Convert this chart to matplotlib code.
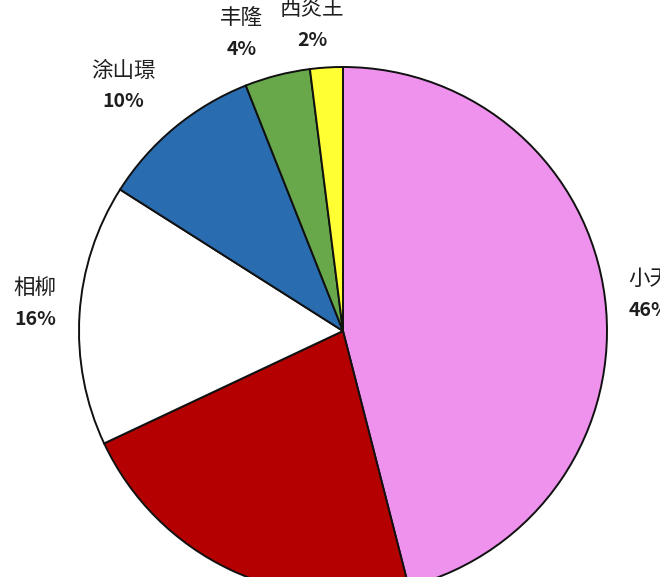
import numpy as np
import matplotlib.pyplot as plt

plt.rcParams['font.family'] = ['Noto Sans CJK SC', 'DejaVu Sans']

names = ['小天', '', '相柳', '涂山璟', '丰隆', '西炎王']
shares = [46, 22, 16, 10, 4, 2]
colors = ['#EE92EE', '#B40000', '#FFFFFF', '#2A6CB0', '#68A84A', '#FFFF33']
# label placement: distance (in radii) and small angle nudge (deg)
label_dist = [1.17, 1.17, 1.17, 1.245, 1.19, 1.165]
label_nudge = [-0.5, 0, -1.5, 2.3, 4.4, 2.1]

fig = plt.figure(figsize=(6.6, 5.77), dpi=100)
ax = fig.add_axes([0, 0, 1, 1])

wedges, _ = ax.pie(shares, colors=colors, startangle=90, counterclock=False,
                   radius=1.0, center=(0, 0),
                   wedgeprops=dict(edgecolor='#111111', linewidth=1.4))

for w, name, pct, d, nd in zip(wedges, names, shares, label_dist, label_nudge):
    if not name:
        continue
    mid = np.deg2rad((w.theta1 + w.theta2) / 2 + nd)
    x, y = d * np.cos(mid), d * np.sin(mid)
    ax.text(x, y + 0.059, name, ha='center', va='center', fontsize=15.5,
            fontweight='medium', color='#1e1e1e')
    ax.text(x, y - 0.059, '%d%%' % pct, ha='center', va='center', fontsize=14,
            fontweight='bold', color='#1e1e1e')

ax.set_xlim(-343 / 264, (660 - 343) / 264)
ax.set_ylim(-(577 - 331) / 264, 331 / 264)
ax.set_aspect('equal')
ax.axis('off')

fig.savefig('out.png', dpi=100, facecolor='white')
